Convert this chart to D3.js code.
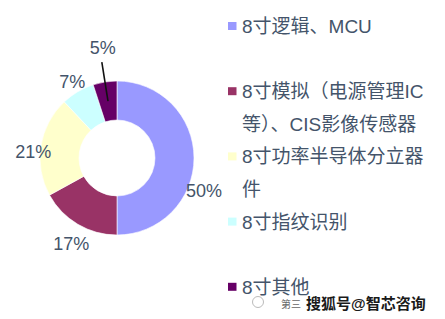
<!DOCTYPE html>
<html>
<head>
<meta charset="utf-8">
<script src="https://cdn.jsdelivr.net/npm/d3@7/dist/d3.min.js"></script>
<style>
  html, body { margin: 0; padding: 0; background: #ffffff; }
  svg { display: block; }
  text { font-family: "Liberation Sans", Arial, "Noto Sans CJK SC", sans-serif; }
</style>
</head>
<body>
<svg id="chart" width="445" height="319"></svg>
<script>
// ---- data ----
const categories = ["8寸逻辑、MCU", "8寸模拟（电源管理IC等）、CIS影像传感器", "8寸功率半导体分立器件", "8寸指纹识别", "8寸其他"];
const legendLines = [["8寸逻辑、MCU"], ["8寸模拟（电源管理IC", "等）、CIS影像传感器"], ["8寸功率半导体分立器", "件"], ["8寸指纹识别"], ["8寸其他"]];
const shares = [50, 17, 21, 7, 5];
const sliceColors = ["#9999FF", "#993366", "#FFFFCC", "#CCFFFF", "#660066"];
const watermark = "搜狐号@智芯咨询";

// ---- layout ----
const W = 445, H = 319;
const cx = 117, cy = 158, rOuter = 77, rInner = 38;
const textColor = "#44546A";
const labelR = 92;
// per-slice label nudges (Excel-like placement)
const labelNudge = [[-5, 33], [1, 7], [7, 8], [2, 3], [3, 0]];
const labelRadius = [labelR, labelR, labelR, labelR, 111];

const svg = d3.select("#chart");
svg.append("rect").attr("width", W).attr("height", H).attr("fill", "#ffffff");

const pie = d3.pie().sort(null).value(d => d).startAngle(0).endAngle(2 * Math.PI);
const arcs = pie(shares);
const arc = d3.arc().innerRadius(rInner).outerRadius(rOuter);

const g = svg.append("g").attr("transform", `translate(${cx},${cy})`);
g.selectAll("path.slice")
  .data(arcs)
  .join("path")
  .attr("class", "slice")
  .attr("d", arc)
  .attr("fill", (d, i) => sliceColors[i])
  .attr("stroke", "#ffffff")
  .attr("stroke-width", 0.6);

const total = d3.sum(shares);
const fmt = v => Math.round(v / total * 100) + "%";
const polar = (a, r) => [r * Math.sin(a), -r * Math.cos(a)];

// leader line for the smallest slice
const last = arcs[arcs.length - 1];
const lm = (last.startAngle + last.endAngle) / 2;
const p0 = polar(lm, (rInner + rOuter) / 2), p1 = polar(lm, 97);
g.append("line")
  .attr("x1", p0[0]).attr("y1", p0[1])
  .attr("x2", p1[0]).attr("y2", p1[1])
  .attr("stroke", "#111111").attr("stroke-width", 1.6);

g.selectAll("text.lbl")
  .data(arcs)
  .join("text")
  .attr("class", "lbl")
  .attr("x", (d, i) => polar((d.startAngle + d.endAngle) / 2, labelRadius[i])[0] + labelNudge[i][0])
  .attr("y", (d, i) => polar((d.startAngle + d.endAngle) / 2, labelRadius[i])[1] + labelNudge[i][1])
  .attr("text-anchor", "middle")
  .attr("dominant-baseline", "central")
  .attr("font-size", 18)
  .attr("fill", textColor)
  .text(d => fmt(d.value));

// ---- legend ----
const legX = 228, textX = 242, row0 = 26.5, rowStep = 32.6;
const leg = svg.append("g");
legendLines.forEach((lines, i) => {
  const y = row0 + i * 2 * rowStep;
  leg.append("rect")
    .attr("x", legX).attr("y", y - 4.5)
    .attr("width", 8.5).attr("height", 8)
    .attr("fill", sliceColors[i]);
  lines.forEach((ln, j) => {
    leg.append("text")
      .attr("x", textX).attr("y", y + j * rowStep)
      .attr("dominant-baseline", "central")
      .attr("font-size", 19)
      .attr("fill", textColor)
      .text(ln);
  });
});

// ---- watermark ----
const wm = svg.append("g");
wm.append("circle").attr("cx", 258).attr("cy", 302).attr("r", 5.5)
  .attr("fill", "none").attr("stroke", "#bbbbbb").attr("stroke-width", 1);
wm.append("text").attr("x", 281).attr("y", 304)
  .attr("dominant-baseline", "central").attr("font-size", 10)
  .attr("fill", "#666666").attr("stroke", "#ffffff").attr("stroke-width", 2)
  .attr("paint-order", "stroke").text("第三");
wm.append("text").attr("x", 306).attr("y", 303)
  .attr("dominant-baseline", "central").attr("font-size", 15)
  .attr("font-weight", "bold")
  .attr("fill", "#1a1a1a").attr("stroke", "#ffffff").attr("stroke-width", 2.5)
  .attr("paint-order", "stroke").text(watermark);
</script>
</body>
</html>
